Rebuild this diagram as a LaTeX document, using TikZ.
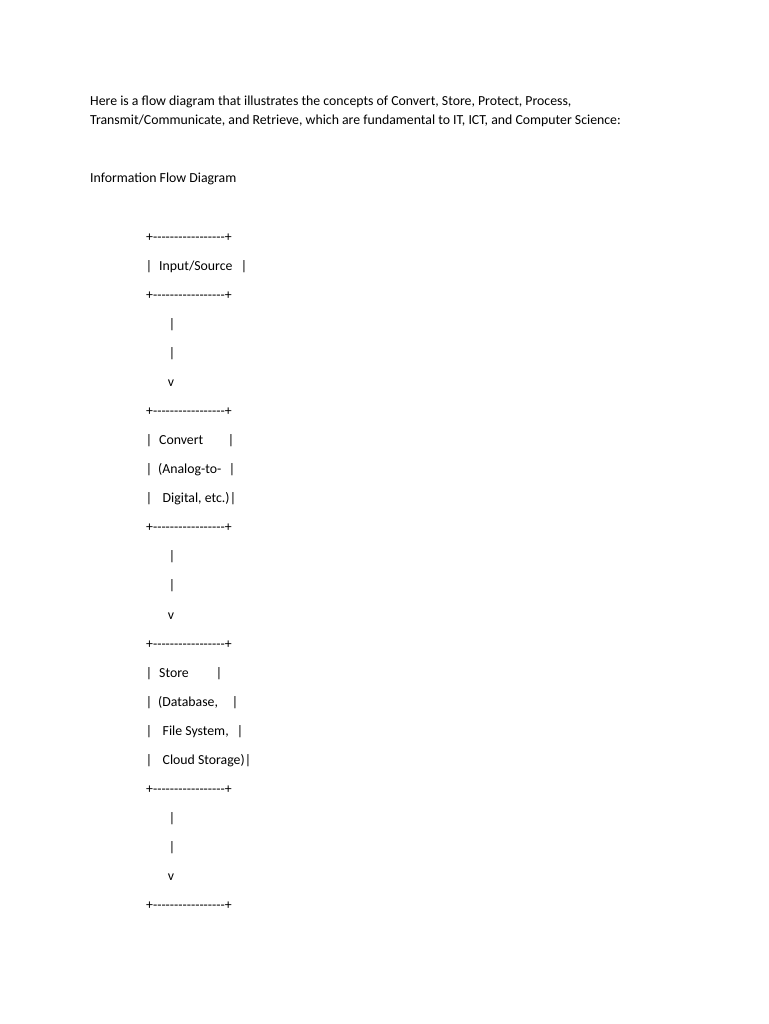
\documentclass[tikz,border=0pt]{standalone}
\usepackage{fontspec}
\setmainfont{Carlito}
\tikzset{
  doc/.style={inner sep=0pt, anchor=base west, font=\fontsize{13.8}{16}\selectfont},
  bar/.style={doc, anchor=base},
}
\newcommand{\boxrule}{+{-}{-}{-}{-}{-}{-}{-}{-}{-}{-}{-}{-}{-}{-}{-}{-}{-}+}
\begin{document}
\begin{tikzpicture}[x=1pt, y=-1pt]
      \fill[white] (0,0) rectangle (768,1024);
      % heading text
      \node[doc] (intro1) at (90,105.5) {Here is a flow diagram that illustrates the concepts of Convert, Store, Protect, Process,};
      \node[doc] (intro2) at (90,124.5) {Transmit/Communicate, and Retrieve, which are fundamental to IT, ICT, and Computer Science:};
      \node[doc] (title) at (90,182.5) {Information Flow Diagram};
      % input box
      \node[doc] (r0) at (146,{241.5+29.04*0}) {\boxrule};
      \node[bar] (in-l) at (149,{241.5+29.04*1}) {|};
      \node[doc] (in) at (159,{241.5+29.04*1}) {Input/Source};
      \node[bar] (in-r) at (244,{241.5+29.04*1}) {|};
      \node[doc] (r2) at (146,{241.5+29.04*2}) {\boxrule};
      \node[bar] (a1) at (172,{241.5+29.04*3}) {|};
      \node[bar] (a2) at (172,{241.5+29.04*4}) {|};
      \node[bar] (a3) at (171,{241.5+29.04*5}) {v};
      % convert box
      \node[doc] (r6) at (146,{241.5+29.04*6}) {\boxrule};
      \node[bar] (cv-l1) at (149,{241.5+29.04*7}) {|};
      \node[doc] (cv1) at (159,{241.5+29.04*7}) {Convert};
      \node[bar] (cv-r1) at (231,{241.5+29.04*7}) {|};
      \node[bar] (cv-l2) at (149,{241.5+29.04*8}) {|};
      \node[doc] (cv2) at (158,{241.5+29.04*8}) {(Analog-to-};
      \node[bar] (cv-r2) at (232,{241.5+29.04*8}) {|};
      \node[bar] (cv-l3) at (149,{241.5+29.04*9}) {|};
      \node[doc] (cv3) at (162.5,{241.5+29.04*9}) {Digital, etc.)};
      \node[bar] (cv-r3) at (233,{241.5+29.04*9}) {|};
      \node[doc] (r10) at (146,{241.5+29.04*10}) {\boxrule};
      \node[bar] (b1) at (172,{241.5+29.04*11}) {|};
      \node[bar] (b2) at (172,{241.5+29.04*12}) {|};
      \node[bar] (b3) at (171,{241.5+29.04*13}) {v};
      % store box
      \node[doc] (r14) at (146,{241.5+29.04*14}) {\boxrule};
      \node[bar] (st-l1) at (149,{241.5+29.04*15}) {|};
      \node[doc] (st1) at (159,{241.5+29.04*15}) {Store};
      \node[bar] (st-r1) at (219,{241.5+29.04*15}) {|};
      \node[bar] (st-l2) at (149,{241.5+29.04*16}) {|};
      \node[doc] (st2) at (158,{241.5+29.04*16}) {(Database,};
      \node[bar] (st-r2) at (235,{241.5+29.04*16}) {|};
      \node[bar] (st-l3) at (149,{241.5+29.04*17}) {|};
      \node[doc] (st3) at (162.5,{241.5+29.04*17}) {File System,};
      \node[bar] (st-r3) at (240,{241.5+29.04*17}) {|};
      \node[bar] (st-l4) at (149,{241.5+29.04*18}) {|};
      \node[doc] (st4) at (162.5,{241.5+29.04*18}) {Cloud Storage)};
      \node[bar] (st-r4) at (248,{241.5+29.04*18}) {|};
      \node[doc] (r19) at (146,{241.5+29.04*19}) {\boxrule};
      \node[bar] (c1) at (172,{241.5+29.04*20}) {|};
      \node[bar] (c2) at (172,{241.5+29.04*21}) {|};
      \node[bar] (c3) at (171,{241.5+29.04*22}) {v};
      \node[doc] (r23) at (146,{241.5+29.04*23}) {\boxrule};
    \end{tikzpicture}
\end{document}
